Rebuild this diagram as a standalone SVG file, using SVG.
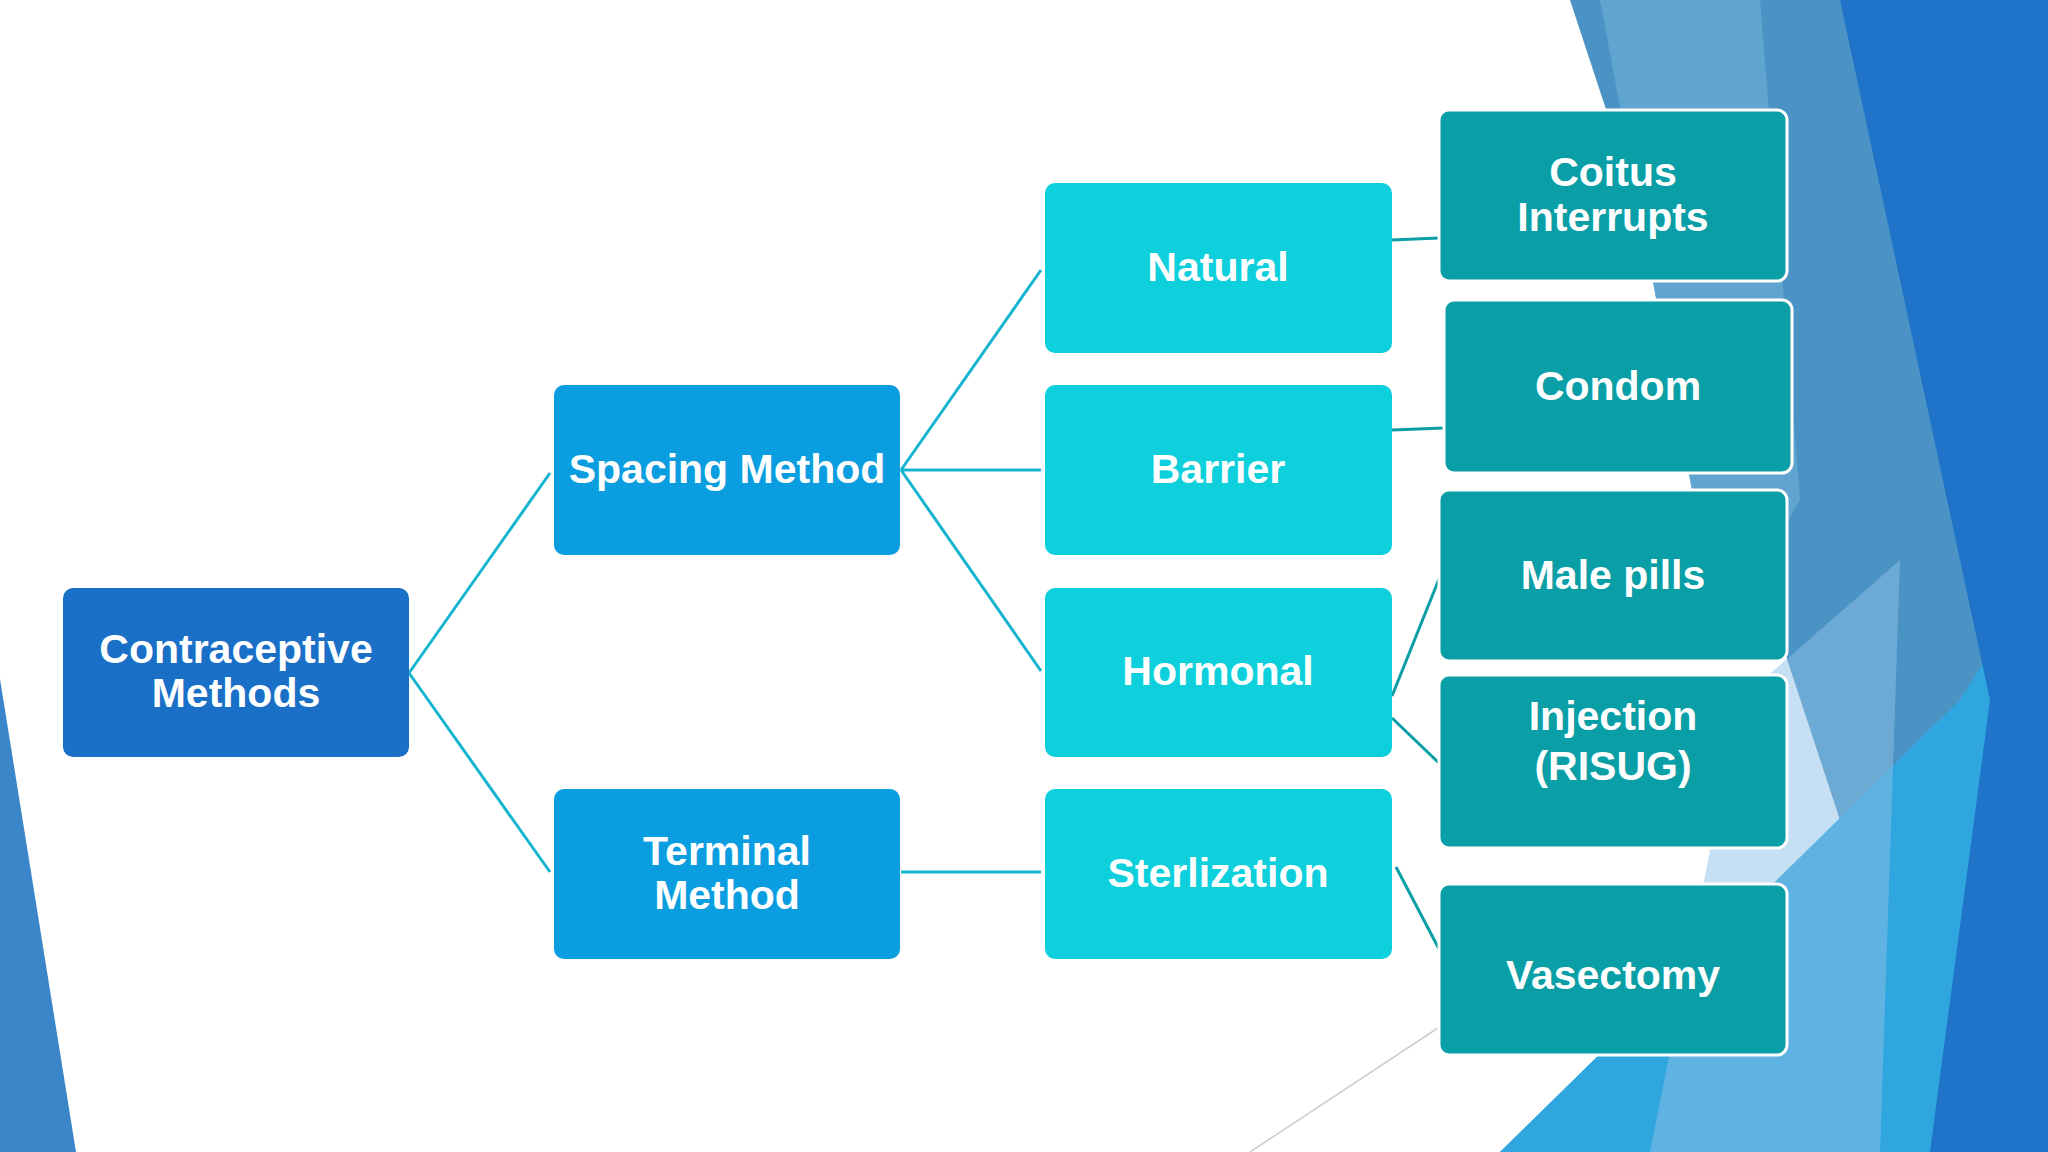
<svg xmlns="http://www.w3.org/2000/svg" width="2048" height="1152" viewBox="0 0 2048 1152">
<style>
.t{font-family:"Liberation Sans",Arial,sans-serif;font-weight:bold;font-size:41px;fill:#fff;text-anchor:middle}
.c{stroke:#16b5cf;stroke-width:3;fill:none}
.l1{fill:#1a6fc7}.l2{fill:#0a9ddf}.l3{fill:#0ecfdc}.l4{fill:#0a9ea6;stroke:#fff;stroke-width:3}
</style>
<rect width="2048" height="1152" fill="#fff"/>
<g id="bg">
<polygon points="1570,0 2048,0 2048,1152 1500,1152 1840,820" fill="#4a93c4"/>
<polygon points="1600,0 1760,0 1800,500 1720,640" fill="#5fa5cf"/>
<polygon points="1500,1152 1960,700 2048,560 2048,1152" fill="#2fa6de"/>
<polygon points="1840,0 2048,0 2048,1152 1930,1152 1990,700" fill="#1f74c9"/>
<polygon points="1740,700 1900,560 1880,1152 1650,1152" fill="#8fbfe6" opacity="0.5"/>
<polygon points="0,679 76,1152 0,1152" fill="#3a86c9"/>
<line x1="1250" y1="1152" x2="1450" y2="1020" stroke="#ccc" stroke-width="1.5"/>
</g>
<g id="connectors">
<path class="c" d="M409 673L550 473M409 673L550 872M901 470L1041 270M901 470L1041 470M901 470L1041 671M901 872L1041 872"/>
<path class="c" stroke="#0a9ea6" style="stroke:#0a9ea6" d="M1392 240L1439 238M1392 430L1444 428M1392 696L1439 579M1392 718L1439 763M1396 867L1439 949"/>
</g>
<g id="contraceptive"><rect class="l1" x="63" y="588" width="346" height="169" rx="10"/><text class="t" x="236" y="663">Contraceptive</text><text class="t" x="236" y="707">Methods</text></g>
<g id="spacing"><rect class="l2" x="554" y="385" width="346" height="170" rx="10"/><text class="t" x="727" y="483">Spacing Method</text></g>
<g id="terminal"><rect class="l2" x="554" y="789" width="346" height="170" rx="10"/><text class="t" x="727" y="865">Terminal</text><text class="t" x="727" y="909">Method</text></g>
<g id="natural"><rect class="l3" x="1045" y="183" width="347" height="170" rx="10"/><text class="t" x="1218" y="281">Natural</text></g>
<g id="barrier"><rect class="l3" x="1045" y="385" width="347" height="170" rx="10"/><text class="t" x="1218" y="483">Barrier</text></g>
<g id="hormonal"><rect class="l3" x="1045" y="588" width="347" height="169" rx="10"/><text class="t" x="1218" y="685">Hormonal</text></g>
<g id="sterlization"><rect class="l3" x="1045" y="789" width="347" height="170" rx="10"/><text class="t" x="1218" y="887">Sterlization</text></g>
<g id="coitus"><rect class="l4" x="1439" y="110" width="348" height="171" rx="10"/><text class="t" x="1613" y="186">Coitus</text><text class="t" x="1613" y="231">Interrupts</text></g>
<g id="condom"><rect class="l4" x="1444" y="300" width="348" height="173" rx="10"/><text class="t" x="1618" y="400">Condom</text></g>
<g id="malepills"><rect class="l4" x="1439" y="490" width="348" height="171" rx="10"/><text class="t" x="1613" y="589">Male pills</text></g>
<g id="injection"><rect class="l4" x="1439" y="675" width="348" height="173" rx="10"/><text class="t" x="1613" y="730">Injection</text><text class="t" x="1613" y="780">(RISUG)</text></g>
<g id="vasectomy"><rect class="l4" x="1439" y="884" width="348" height="171" rx="10"/><text class="t" x="1613" y="989">Vasectomy</text></g>
</svg>
